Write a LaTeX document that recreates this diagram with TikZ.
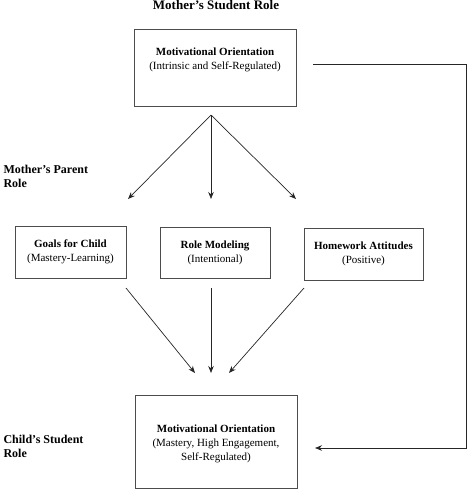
\documentclass[tikz,border=0pt]{standalone}
\usepackage{fontspec}
\setmainfont{Liberation Serif}
\usetikzlibrary{arrows.meta}

\tikzset{
  box/.style={draw=black!70,line width=0.8pt,align=center,
    font=\fontsize{11}{14}\selectfont},
  rolelabel/.style={anchor=west,align=left,
    font=\fontsize{12}{14}\selectfont\bfseries},
  link/.style={draw=black!85,line width=0.7pt,
    -{Stealth[length=7pt,width=5.5pt]}}
}

\begin{document}
\begin{tikzpicture}[x=1pt,y=-1pt]
  \useasboundingbox (0,0) rectangle (474,496);

  %labels
  \node[rolelabel,anchor=center,font=\fontsize{13}{14}\selectfont\bfseries]
    (studentrole) at (216,5) {Mother's Student Role};
  \node[rolelabel] (parentrole) at (0,176) {Mother's Parent\\Role};
  \node[rolelabel] (childrole) at (0,446) {Child's Student\\Role};

  %boxes
  \node[box,minimum width=162pt,minimum height=77pt] (mother) at (215,67.5)
    {\textbf{Motivational Orientation}\\(Intrinsic and Self-Regulated)\\[4pt]};
  \node[box,minimum width=111pt,minimum height=52pt] (goals) at (70.5,252)
    {\textbf{Goals for Child}\\(Mastery-Learning)};
  \node[box,minimum width=110pt,minimum height=51pt] (modeling) at (215,252.5)
    {\textbf{Role Modeling}\\(Intentional)};
  \node[box,minimum width=119pt,minimum height=52pt] (homework) at (363.5,254)
    {\textbf{Homework Attitudes}\\(Positive)};
  \node[box,minimum width=162pt,minimum height=93pt] (child) at (216,441.5)
    {\\[-2pt]\textbf{Motivational Orientation}\\(Mastery, High Engagement,\\Self-Regulated)};

  %arrows
  \coordinate (fan) at (211,115);
  \coordinate (goalsin) at (128,199);
  \coordinate (modelingin) at (211,199);
  \coordinate (homeworkin) at (296,199);
  \draw[link] (fan) -- (goalsin);
  \draw[link] (fan) -- (modelingin);
  \draw[link] (fan) -- (homeworkin);

  \coordinate (goalsout) at (126,288);
  \coordinate (modelingout) at (211,288);
  \coordinate (homeworkout) at (304,288);
  \draw[link] (goalsout) -- (195,373);
  \draw[link] (modelingout) -- (211,373);
  \draw[link] (homeworkout) -- (229,373);

  \coordinate (motherout) at (313,64);
  \coordinate (childin) at (315,448);
  \draw[link]
    (motherout)
    -- (466,64)
    -- (466,448)
    -- (childin);
\end{tikzpicture}
\end{document}
